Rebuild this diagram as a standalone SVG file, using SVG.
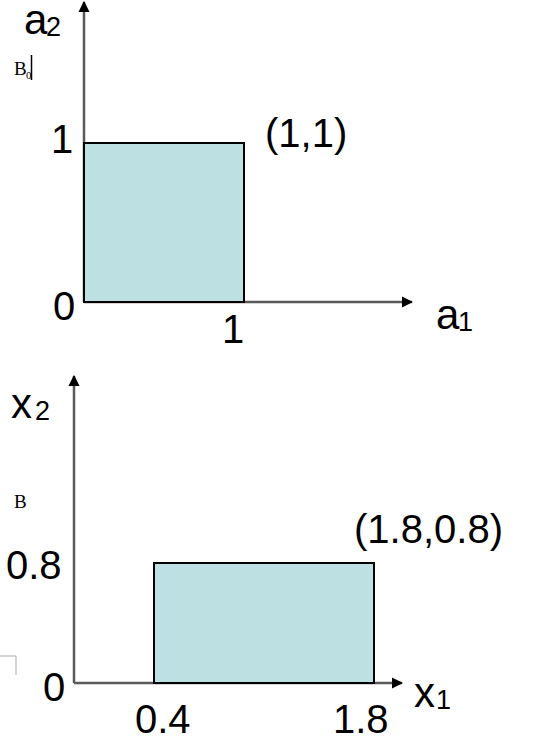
<svg xmlns="http://www.w3.org/2000/svg" width="539" height="737" viewBox="0 0 539 737">
<defs>
<marker id="arr" viewBox="0 0 10 10" refX="9" refY="5" markerWidth="4.5" markerHeight="4.5" orient="auto" markerUnits="strokeWidth">
<path d="M0,0 L10,5 L0,10 z" fill="#000"/>
</marker>
</defs>
<style>
.ax{stroke:#5a5a5a;stroke-width:2.5;fill:none}
.box{fill:#bde0e3;stroke:#000;stroke-width:2}
.t{font-family:"Liberation Sans",Arial,sans-serif;font-size:40px;fill:#000}
.v{font-family:"Liberation Sans",Arial,sans-serif;font-size:42px;fill:#000}
.s{font-family:"Liberation Sans",Arial,sans-serif;font-size:27px;fill:#000}
.b{font-family:"Liberation Serif","Times New Roman",serif;font-size:19px;fill:#000}
.bs{font-family:"Liberation Serif","Times New Roman",serif;font-size:11px;fill:#000}
</style>
<rect width="539" height="737" fill="#fff"/>
<g id="connectors">
<line class="ax" x1="84" y1="302" x2="84" y2="2" marker-end="url(#arr)"/>
<line class="ax" x1="84" y1="302" x2="412" y2="302" marker-end="url(#arr)"/>
<line class="ax" x1="74" y1="683" x2="74" y2="376" marker-end="url(#arr)"/>
<line class="ax" x1="74" y1="683" x2="402" y2="683" marker-end="url(#arr)"/>
</g>
<g id="box1"><rect class="box" x="84" y="143" width="160" height="159"/></g>
<g id="box2"><rect class="box" x="154" y="563" width="220" height="120"/></g>
<g id="labels">
<text class="v" x="24" y="34">a</text><text class="s" x="46" y="36">2</text>
<text class="b" x="14" y="75">B</text><text class="bs" x="26" y="79">0</text>
<line x1="31.5" y1="55" x2="31.5" y2="80" stroke="#000" stroke-width="1.5"/>
<text class="t" x="51" y="153">1</text>
<text class="t" x="265" y="147">(1,1)</text>
<text class="t" x="53" y="320">0</text>
<text class="t" x="222" y="343">1</text>
<text class="v" x="436" y="329">a</text><text class="s" x="458" y="331">1</text>
<text class="v" x="11" y="418">x</text><text class="s" x="35" y="420">2</text>
<text class="b" x="14" y="508">B</text>
<text class="t" x="6" y="579">0.8</text>
<text class="t" x="354" y="543">(1.8,0.8)</text>
<text class="t" x="43" y="701">0</text>
<text class="t" x="135" y="733">0.4</text>
<text class="t" x="333" y="733">1.8</text>
<text class="v" x="414" y="707">x</text><text class="s" x="436" y="709">1</text>
</g>
<path d="M0,656 H16 V675" fill="none" stroke="#aaa" stroke-width="1"/>
</svg>
